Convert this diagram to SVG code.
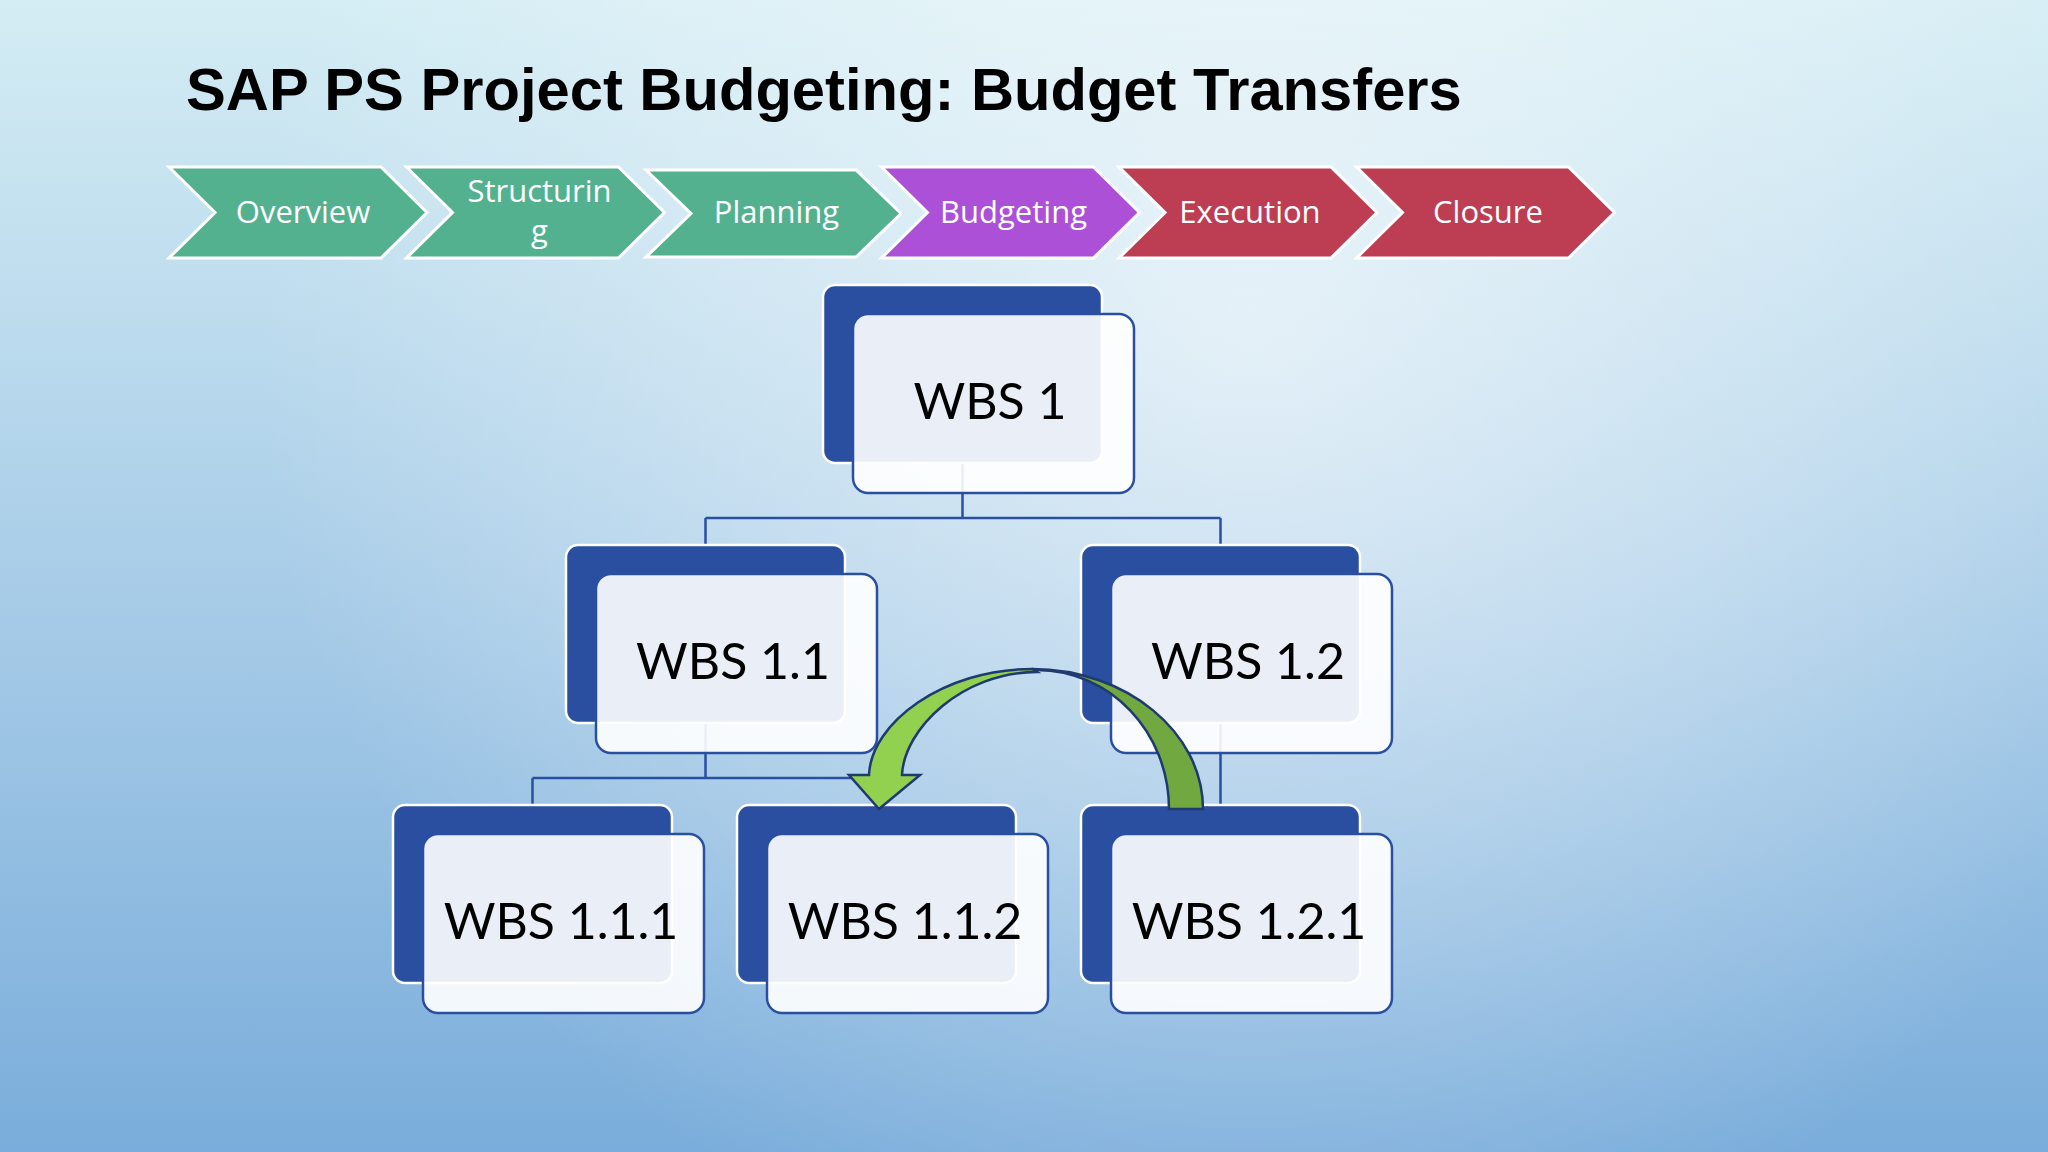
<svg xmlns="http://www.w3.org/2000/svg" width="2048" height="1152" viewBox="0 0 2048 1152">
  <defs>
    <linearGradient id="bg" x1="0" y1="0" x2="0" y2="1">
      <stop offset="0" stop-color="#D4EDF4"/>
      <stop offset="0.5" stop-color="#A9CDE8"/>
      <stop offset="1" stop-color="#7AADDB"/>
    </linearGradient>
    <radialGradient id="glow" gradientUnits="userSpaceOnUse" cx="1250" cy="320" r="1000">
      <stop offset="0" stop-color="#FFFFFF" stop-opacity="0.6"/>
      <stop offset="0.55" stop-color="#FFFFFF" stop-opacity="0.28"/>
      <stop offset="1" stop-color="#FFFFFF" stop-opacity="0"/>
    </radialGradient>
    <style>
      .title { font-family: "Liberation Sans", Arial, sans-serif; font-weight: bold; font-size: 59.7px; fill: #000000; }
      .chev { stroke: #FFFFFF; stroke-width: 3; stroke-linejoin: miter; }
      .green { fill: #53B18F; }
      .purple { fill: #AC50D8; }
      .red { fill: #BD3E52; }
      .ctext { font-family: "Open Sans", "Noto Sans", sans-serif; font-size: 31px; fill: #FFFFFF; text-anchor: middle; }
      .back { fill: #2A4FA1; stroke: #FFFFFF; stroke-width: 2.5; }
      .front { fill: #FFFFFF; fill-opacity: 0.9; stroke: #2A4FA1; stroke-width: 2.5; }
      .wtext { font-family: Lato, "Liberation Sans", sans-serif; font-size: 50px; fill: #000000; text-anchor: middle; }
      .conn { fill: none; stroke: #2A4FA1; stroke-width: 2.5; }
      .arr { stroke: #1E3A6E; stroke-width: 2.5; stroke-linejoin: miter; }
    </style>
  </defs>

  <rect x="0" y="0" width="2048" height="1152" fill="url(#bg)"/>
  <rect x="0" y="0" width="2048" height="1152" fill="url(#glow)"/>

  <text class="title" x="186" y="110">SAP PS Project Budgeting: Budget Transfers</text>

  <g id="process">
    <g id="step-overview">
      <polygon class="chev green" points="169,167 381,167 427,212.5 381,258 169,258 215,212.5"/>
      <text class="ctext" x="303" y="223">Overview</text>
    </g>
    <g id="step-structuring">
      <polygon class="chev green" points="406.5,167 618.5,167 664.5,212.5 618.5,258 406.5,258 452.5,212.5"/>
      <text class="ctext" x="539.5" y="202">Structurin</text>
      <text class="ctext" x="539.5" y="242">g</text>
    </g>
    <g id="step-planning">
      <polygon class="chev green" points="646,170 856,170 901,213.5 856,257 646,257 691,213.5"/>
      <text class="ctext" x="776.5" y="223">Planning</text>
    </g>
    <g id="step-budgeting">
      <polygon class="chev purple" points="881.5,167 1093.5,167 1139.5,212.5 1093.5,258 881.5,258 927.5,212.5"/>
      <text class="ctext" x="1013.5" y="223">Budgeting</text>
    </g>
    <g id="step-execution">
      <polygon class="chev red" points="1119,167 1331,167 1377,212.5 1331,258 1119,258 1165,212.5"/>
      <text class="ctext" x="1250" y="223">Execution</text>
    </g>
    <g id="step-closure">
      <polygon class="chev red" points="1356.5,167 1568.5,167 1614.5,212.5 1568.5,258 1356.5,258 1402.5,212.5"/>
      <text class="ctext" x="1488" y="223">Closure</text>
    </g>
  </g>

  <g id="connectors">
    <path class="conn" d="M962.5 462 V518 M705.5 518 H1220.5 M705.5 518 V545 M1220.5 518 V545"/>
    <path class="conn" d="M705.5 723 V778 M532.5 778 H876.5 M532.5 778 V805 M876.5 778 V805"/>
    <path class="conn" d="M1220.5 723 V805"/>
  </g>

  <g id="wbs-1">
    <rect class="back" x="823" y="285" width="279" height="178" rx="12"/>
    <rect class="front" x="853" y="314" width="281" height="179" rx="15"/>
    <text class="wtext" x="990" y="419">WBS 1</text>
  </g>
  <g id="wbs-1-1">
    <rect class="back" x="566" y="545" width="279" height="178" rx="12"/>
    <rect class="front" x="596" y="574" width="281" height="179" rx="15"/>
    <text class="wtext" x="733" y="679">WBS 1.1</text>
  </g>
  <g id="wbs-1-2">
    <rect class="back" x="1081" y="545" width="279" height="178" rx="12"/>
    <rect class="front" x="1111" y="574" width="281" height="179" rx="15"/>
    <text class="wtext" x="1248" y="679">WBS 1.2</text>
  </g>
  <g id="wbs-1-1-1">
    <rect class="back" x="393" y="805" width="279" height="178" rx="12"/>
    <rect class="front" x="423" y="834" width="281" height="179" rx="15"/>
    <text class="wtext" x="561" y="939">WBS 1.1.1</text>
  </g>
  <g id="wbs-1-1-2">
    <rect class="back" x="737" y="805" width="279" height="178" rx="12"/>
    <rect class="front" x="767" y="834" width="281" height="179" rx="15"/>
    <text class="wtext" x="905" y="939">WBS 1.1.2</text>
  </g>
  <g id="wbs-1-2-1">
    <rect class="back" x="1081" y="805" width="279" height="178" rx="12"/>
    <rect class="front" x="1111" y="834" width="281" height="179" rx="15"/>
    <text class="wtext" x="1249" y="939">WBS 1.2.1</text>
  </g>

  <g id="transfer-arrow">
    <path class="arr" fill="#71A940" d="M1032 669 C1126 669 1203 732 1203 809 L1169 809 C1169 732 1110 670 1037 670 Z"/>
    <path class="arr" fill="#92D050" d="M1032 669 C943 669 871 723 869 775 L849 775 L879 809 L920 775 L902 775 C904 729 962 672 1037 672 Z"/>
  </g>
</svg>
